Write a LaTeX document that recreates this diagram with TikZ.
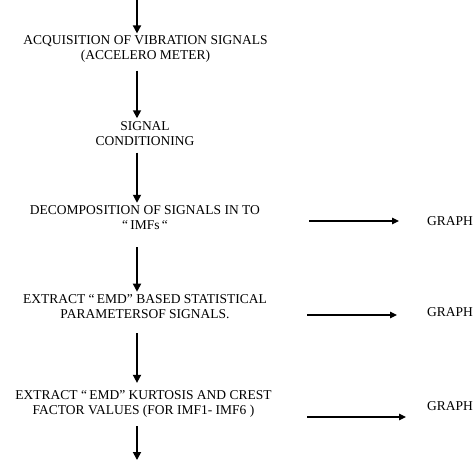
\documentclass[tikz,border=0pt]{standalone}
\usepackage{fontspec}
\setmainfont{Liberation Serif}
\usetikzlibrary{arrows.meta,positioning}
\tikzset{step text/.style={align=center,inner sep=0pt,font=\fontsize{13.5}{15}\selectfont}}
\tikzset{flow/.style={-{Triangle[length=8pt,width=8pt]},line width=1.7pt}}
\tikzset{side flow/.style={-{Triangle[length=7pt,width=6.5pt]},line width=1.2pt}}

\begin{document}
\begin{tikzpicture}[x=1pt,y=-1pt]
\useasboundingbox[fill=white](0,0) rectangle (474,474);
\coordinate(top) at (137,0);
\node[step text](acq) at (145.5,49){ACQUISITION OF VIBRATION SIGNALS\\(ACCELERO METER)};
\node[step text](sig) at (145,133.5){SIGNAL\\CONDITIONING};
\node[step text](dec) at (145,218){DECOMPOSITION OF SIGNALS IN TO\\``\,IMFs\,``};
\node[step text](par) at (145,307){EXTRACT ``\,EMD'' BASED STATISTICAL\\PARAMETERSOF SIGNALS.};
\node[step text](kur) at (143.5,403.5){EXTRACT ``\,EMD'' KURTOSIS AND CREST\\FACTOR VALUES (FOR IMF1- IMF6 )};
\coordinate(bot) at (137,460);
\node[step text,anchor=west](gdec) at (427,221){GRAPH};
\node[step text,anchor=west](gpar) at (427,312){GRAPH};
\node[step text,anchor=west](gkur) at (427,406){GRAPH};
\coordinate(sdec) at (309,221);
\coordinate(spar) at (307,315);
\coordinate(skur) at (307,417);
% main flow
\draw[flow](top) -- ([yshift=2pt]top |- acq.north);
\draw[flow]([yshift=-8pt]top |- acq.south) -- ([yshift=3pt]top |- sig.north);
\draw[flow]([yshift=-7pt]top |- sig.south) -- ([yshift=3pt]top |- dec.north);
\draw[flow]([yshift=-17pt]top |- dec.south) -- ([yshift=3pt]top |- par.north);
\draw[flow]([yshift=-14pt]top |- par.south) -- ([yshift=7pt]top |- kur.north);
\draw[flow]([yshift=-9pt]top |- kur.south) -- (bot);
% graphs
\draw[side flow](sdec) -- ([xshift=-28pt]sdec -| gdec.west);
\draw[side flow](spar) -- ([xshift=-30pt]spar -| gpar.west);
\draw[side flow](skur) -- ([xshift=-21pt]skur -| gkur.west);
\end{tikzpicture}
\end{document}
